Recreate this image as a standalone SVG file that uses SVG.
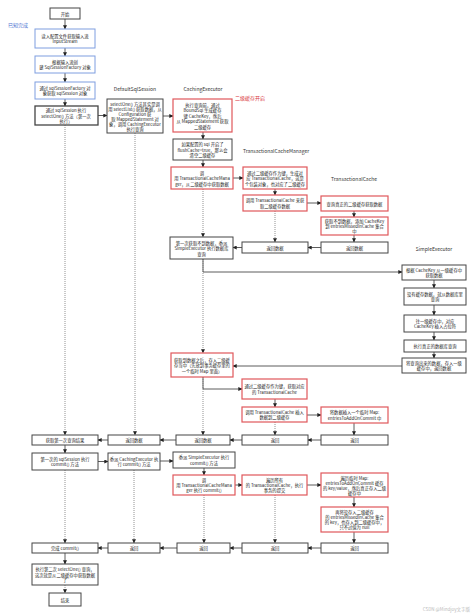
<svg xmlns="http://www.w3.org/2000/svg" width="474" height="614" viewBox="0 0 474 614">
<defs>
<marker id="ah" viewBox="0 0 6 6" refX="5.5" refY="3" markerWidth="4" markerHeight="4" orient="auto" markerUnits="userSpaceOnUse"><path d="M0,0 L6,3 L0,6 Z" fill="#222"/></marker>
</defs>
<style>
text{font-family:"Noto Sans CJK SC","Liberation Sans",sans-serif;font-size:4.3px;fill:#222;text-anchor:middle;dominant-baseline:central}
.lbl{font-size:5px;fill:#333}
.red-t{font-size:5px;fill:#d9363e}
.blue-t{font-size:5px;fill:#4a6fd0;text-anchor:start}
.wm{font-size:4.5px;fill:#bbb;text-anchor:end}
rect{fill:#fff}
.k{stroke:#444;stroke-width:1}
.r{stroke:#e0575b;stroke-width:1.2}
.b{stroke:#7e9ee0;stroke-width:1}
.s{stroke:#333;stroke-width:0.8;fill:none}
.d{stroke:#777;stroke-width:0.8;fill:none;stroke-dasharray:1 1}
</style>
<rect x="0" y="0" width="474" height="614" style="fill:#fff"/>
<text class="blue-t" x="8" y="24">已知完成</text>
<text class="lbl" x="135" y="88">DefaultSqlSession</text>
<text class="lbl" x="203" y="88">CachingExecutor</text>
<text class="red-t" x="250" y="97">二级缓存开启</text>
<text class="lbl" x="276" y="150">TransactionalCacheManager</text>
<text class="lbl" x="354" y="178">TransactionalCache</text>
<text class="lbl" x="434" y="248">SimpleExecutor</text>
<text class="wm" x="470" y="609">CSDN @Mindjoy文字版</text>

<g id="connectors">
<path class="s" d="M65,19V29" marker-end="url(#ah)"/>
<path class="s" d="M65,48V56" marker-end="url(#ah)"/>
<path class="s" d="M65,73V82" marker-end="url(#ah)"/>
<path class="s" d="M65,99V106" marker-end="url(#ah)"/>
<path class="s" d="M98,115.5H107" marker-end="url(#ah)"/>
<path class="d" d="M65,125V435" marker-end="url(#ah)"/>
<path class="d" d="M135,133V435" marker-end="url(#ah)"/>
<path class="s" d="M163,116H173" marker-end="url(#ah)"/>
<path class="s" d="M203,132V139" marker-end="url(#ah)"/>
<path class="s" d="M203,160V167" marker-end="url(#ah)"/>
<path class="s" d="M233,178H243" marker-end="url(#ah)"/>
<path class="s" d="M275,189V195" marker-end="url(#ah)"/>
<path class="s" d="M307,203H321" marker-end="url(#ah)"/>
<path class="s" d="M354,211V217" marker-end="url(#ah)"/>
<path class="s" d="M354,235V242" marker-end="url(#ah)"/>
<path class="s" d="M321,247.5H308" marker-end="url(#ah)"/>
<path class="d" d="M275,211V242" marker-end="url(#ah)"/>
<path class="s" d="M242,247.5H233" marker-end="url(#ah)"/>
<path class="d" d="M203,189V237" marker-end="url(#ah)"/>
<path class="s" d="M203,259V272H402" marker-end="url(#ah)"/>
<path class="s" d="M434,280V288" marker-end="url(#ah)"/>
<path class="s" d="M434,305V315" marker-end="url(#ah)"/>
<path class="s" d="M434,332V340" marker-end="url(#ah)"/>
<path class="s" d="M434,352V358" marker-end="url(#ah)"/>
<path class="s" d="M402,366H233" marker-end="url(#ah)"/>
<path class="d" d="M203,259V353" marker-end="url(#ah)"/>
<path class="s" d="M203,377V389H242" marker-end="url(#ah)"/>
<path class="s" d="M275,399V407" marker-end="url(#ah)"/>
<path class="s" d="M307,415H321" marker-end="url(#ah)"/>
<path class="s" d="M354,423V435" marker-end="url(#ah)"/>
<path class="s" d="M321,440H308" marker-end="url(#ah)"/>
<path class="d" d="M275,422V435" marker-end="url(#ah)"/>
<path class="s" d="M242,440H230" marker-end="url(#ah)"/>
<path class="d" d="M203,377V435" marker-end="url(#ah)"/>
<path class="s" d="M176,440H160" marker-end="url(#ah)"/>
<path class="s" d="M108,440H98" marker-end="url(#ah)"/>
<path class="s" d="M65,445V453" marker-end="url(#ah)"/>
<path class="s" d="M98,461.5H108" marker-end="url(#ah)"/>
<path class="s" d="M160,461H173" marker-end="url(#ah)"/>
<path class="s" d="M204,468V475" marker-end="url(#ah)"/>
<path class="s" d="M235,485H242" marker-end="url(#ah)"/>
<path class="s" d="M307,485H321" marker-end="url(#ah)"/>
<path class="s" d="M354,497V507" marker-end="url(#ah)"/>
<path class="s" d="M354,532V543" marker-end="url(#ah)"/>
<path class="s" d="M321,548H308" marker-end="url(#ah)"/>
<path class="d" d="M275,495V543" marker-end="url(#ah)"/>
<path class="s" d="M242,548H230" marker-end="url(#ah)"/>
<path class="d" d="M204,495V543" marker-end="url(#ah)"/>
<path class="s" d="M177,548H160" marker-end="url(#ah)"/>
<path class="d" d="M134,470V543" marker-end="url(#ah)"/>
<path class="s" d="M108,548H98" marker-end="url(#ah)"/>
<path class="d" d="M65,470V543" marker-end="url(#ah)"/>
<path class="s" d="M65,553V564" marker-end="url(#ah)"/>
<path class="d" d="M65,585V593" marker-end="url(#ah)"/>
</g>

<g id="start"><rect class="k" x="50" y="8" width="30" height="11"/><text x="65" y="13.5">开始</text></g>
<g id="read-config"><rect class="b" x="35" y="29" width="60" height="19"/><text x="65" y="35.75">读入配置文件获取输入流</text><text x="65" y="41.25">InputStream</text></g>
<g id="build-factory"><rect class="b" x="35" y="56" width="60" height="17"/><text x="65" y="61.75">根据输入流创</text><text x="65" y="67.25">建 SqlSessionFactory 对象</text></g>
<g id="open-session"><rect class="b" x="35" y="82" width="60" height="17"/><text x="65" y="87.75">通过 sqlSessionFactory 对</text><text x="65" y="93.25">象获取 sqlSession 对象</text></g>
<g id="select-one"><rect class="k" x="35" y="106" width="63" height="19" style="stroke-width:1.3"/><text x="66" y="110">通过 sqlSession 执行</text><text x="66" y="115.5">selectOne() 方法（第一次</text><text x="66" y="121">执行）</text></g>

<g id="dss-select"><rect class="k" x="107" y="99" width="56" height="34"/><text x="135" y="103.5">selectOne() 方法其实是调</text><text x="135" y="108.5">用 selectList() 获取数据，从</text><text x="135" y="113.5">Configuration 获</text><text x="135" y="118.5">取 MappedStatement 对</text><text x="135" y="123.5">象，调用 CachingExecutor</text><text x="135" y="128.5">执行查询</text></g>

<g id="ce-cachekey"><rect class="r" x="173" y="99" width="59" height="33"/><text x="202.5" y="104.5">执行查询前，通过</text><text x="202.5" y="110">BoundSql 生成缓存</text><text x="202.5" y="115.5">键 CacheKey，然后</text><text x="202.5" y="121">从 MappedStatement 获取</text><text x="202.5" y="126.5">二级缓存</text></g>
<g id="ce-flush"><rect class="k" x="173" y="139" width="59" height="21"/><text x="202.5" y="144">如果配置的 sql 开启了</text><text x="202.5" y="149.5">flushCache=true，那么会</text><text x="202.5" y="155">清空二级缓存</text></g>
<g id="ce-tcm"><rect class="r" x="171" y="167" width="62" height="22"/><text x="202" y="172.5">调</text><text x="202" y="178">用 TransactionalCacheMana</text><text x="202" y="183.5">ger，从二级缓存中获取数据</text></g>
<g id="tcm-get"><rect class="r" x="243" y="167" width="64" height="22"/><text x="275" y="172.5">通过二级缓存作为键，生成对</text><text x="275" y="178">应 TransactionalCache，这是</text><text x="275" y="183.5">个包装对象，也对应了二级缓存</text></g>
<g id="tcm-call"><rect class="r" x="243" y="195" width="64" height="16"/><text x="275" y="200.25">调用 TransactionalCache 来获</text><text x="275" y="205.75">取二级缓存数据</text></g>
<g id="tc-query"><rect class="r" x="321" y="196" width="67" height="15"/><text x="354.5" y="203.5">查询真正的二级缓存获取数据</text></g>
<g id="tc-missed"><rect class="r" x="321" y="217" width="67" height="18"/><text x="354.5" y="221">获取不到数据，添加 CacheKey</text><text x="354.5" y="226">到 entriesMissedInCache 集合</text><text x="354.5" y="231">中</text></g>
<g id="tc-return1"><rect class="k" x="321" y="242" width="67" height="11"/><text x="354.5" y="247.5">返回数据</text></g>
<g id="tcm-return1"><rect class="k" x="242" y="242" width="66" height="11"/><text x="275" y="247.5">返回数据</text></g>
<g id="ce-delegate"><rect class="k" x="170" y="237" width="63" height="22"/><text x="201.5" y="242.5">第一次获取不到数据，委派</text><text x="201.5" y="248">SimpleExecutor 执行数据库</text><text x="201.5" y="253.5">查询</text></g>

<g id="se-local"><rect class="k" x="402" y="265" width="64" height="15"/><text x="434" y="269.75">根据 CacheKey 从一级缓存中</text><text x="434" y="275.25">获取数据</text></g>
<g id="se-db"><rect class="k" x="404" y="288" width="62" height="17"/><text x="435" y="293.75">没有缓存数据，就从数据库里</text><text x="435" y="299.25">查询</text></g>
<g id="se-placeholder"><rect class="k" x="404" y="315" width="62" height="17"/><text x="435" y="320.75">往一级缓存中，对应</text><text x="435" y="326.25">CacheKey 插入占位符</text></g>
<g id="se-query"><rect class="k" x="404" y="340" width="62" height="12"/><text x="435" y="346">执行真正的数据库查询</text></g>
<g id="se-store"><rect class="k" x="402" y="358" width="64" height="15"/><text x="434" y="362.75">将查询出来的数据，存入一级</text><text x="434" y="368.25">缓存中，返回数据</text></g>

<g id="ce-put"><rect class="r" x="171" y="353" width="62" height="24"/><text x="202" y="359.5">获取到数据之后，存入二级缓</text><text x="202" y="365">存当中（先放到事务缓存里的</text><text x="202" y="370.5">一个临时 Map 里面）</text></g>
<g id="tcm-get2"><rect class="r" x="242" y="379" width="65" height="20"/><text x="274.5" y="386.25">通过二级缓存作为键，获取对应</text><text x="274.5" y="391.75">的 TransactionalCache</text></g>
<g id="tcm-put"><rect class="r" x="242" y="407" width="65" height="15"/><text x="274.5" y="411.75">调用 TransactionalCache 插入</text><text x="274.5" y="417.25">数据到二级缓存</text></g>
<g id="tc-put"><rect class="r" x="321" y="407" width="67" height="16"/><text x="354.5" y="412.25">将数据插入一个临时 Map:</text><text x="354.5" y="417.75">entriesToAddOnCommit 中</text></g>
<g id="tc-return2"><rect class="k" x="321" y="435" width="67" height="10"/><text x="354.5" y="440">返回</text></g>
<g id="tcm-return2"><rect class="k" x="242" y="435" width="66" height="10"/><text x="275" y="440">返回</text></g>
<g id="ce-return1"><rect class="k" x="176" y="435" width="54" height="10"/><text x="203" y="440">返回数据</text></g>
<g id="dss-return1"><rect class="k" x="108" y="435" width="52" height="10"/><text x="134" y="440">返回数据</text></g>
<g id="first-result"><rect class="k" x="32" y="435" width="66" height="10"/><text x="65" y="440">获取第一次查询结果</text></g>

<g id="commit"><rect class="k" x="32" y="453" width="66" height="17"/><text x="65" y="458.75">第一次的 sqlSession 执行</text><text x="65" y="464.25">commit() 方法</text></g>
<g id="dss-commit"><rect class="k" x="108" y="453" width="52" height="17"/><text x="134" y="458.75">委派 CachingExecutor 执</text><text x="134" y="464.25">行 commit() 方法</text></g>
<g id="ce-commit"><rect class="k" x="173" y="452" width="62" height="16"/><text x="204" y="457.25">委派 SimpleExecutor 执行</text><text x="204" y="462.75">commit() 方法</text></g>
<g id="ce-tcm-commit"><rect class="r" x="173" y="475" width="62" height="20"/><text x="204" y="480">调</text><text x="204" y="485">用 TransactionalCacheMana</text><text x="204" y="490">ger 执行 commit()</text></g>
<g id="tcm-commit"><rect class="r" x="242" y="475" width="65" height="20"/><text x="274.5" y="480">遍历所有</text><text x="274.5" y="485">的 TransactionalCache，执行</text><text x="274.5" y="490">事务的提交</text></g>
<g id="tc-commit"><rect class="r" x="321" y="473" width="67" height="24"/><text x="354.5" y="477.5">遍历临时 Map:</text><text x="354.5" y="482.5">entriesToAddOnCommit 缓存</text><text x="354.5" y="487.5">的 key/value，然后真正存入二级</text><text x="354.5" y="492.5">缓存中</text></g>
<g id="tc-missed-commit"><rect class="r" x="321" y="507" width="67" height="25"/><text x="354.5" y="512">再将没存入二级缓存</text><text x="354.5" y="517">的 entriesMissedInCache 集合</text><text x="354.5" y="522">的 key，也存入到二级缓存中，</text><text x="354.5" y="527">只不过值为 null</text></g>
<g id="tc-return3"><rect class="k" x="321" y="543" width="67" height="10"/><text x="354.5" y="548">返回</text></g>
<g id="tcm-return3"><rect class="k" x="242" y="543" width="66" height="10"/><text x="275" y="548">返回</text></g>
<g id="ce-return2"><rect class="k" x="177" y="543" width="53" height="10"/><text x="203.5" y="548">返回</text></g>
<g id="dss-return2"><rect class="k" x="108" y="543" width="52" height="10"/><text x="134" y="548">返回</text></g>
<g id="commit-done"><rect class="k" x="32" y="543" width="66" height="10"/><text x="65" y="548">完成 commit()</text></g>
<g id="second-select"><rect class="k" x="32" y="564" width="66" height="21"/><text x="65" y="569">执行第二次 selectOne() 查询，</text><text x="65" y="574.5">这次就是从二级缓存中获取数据</text><text x="65" y="580">了</text></g>
<g id="end"><rect class="k" x="49" y="593" width="32" height="13"/><text x="65" y="599.5">结束</text></g>
</svg>
